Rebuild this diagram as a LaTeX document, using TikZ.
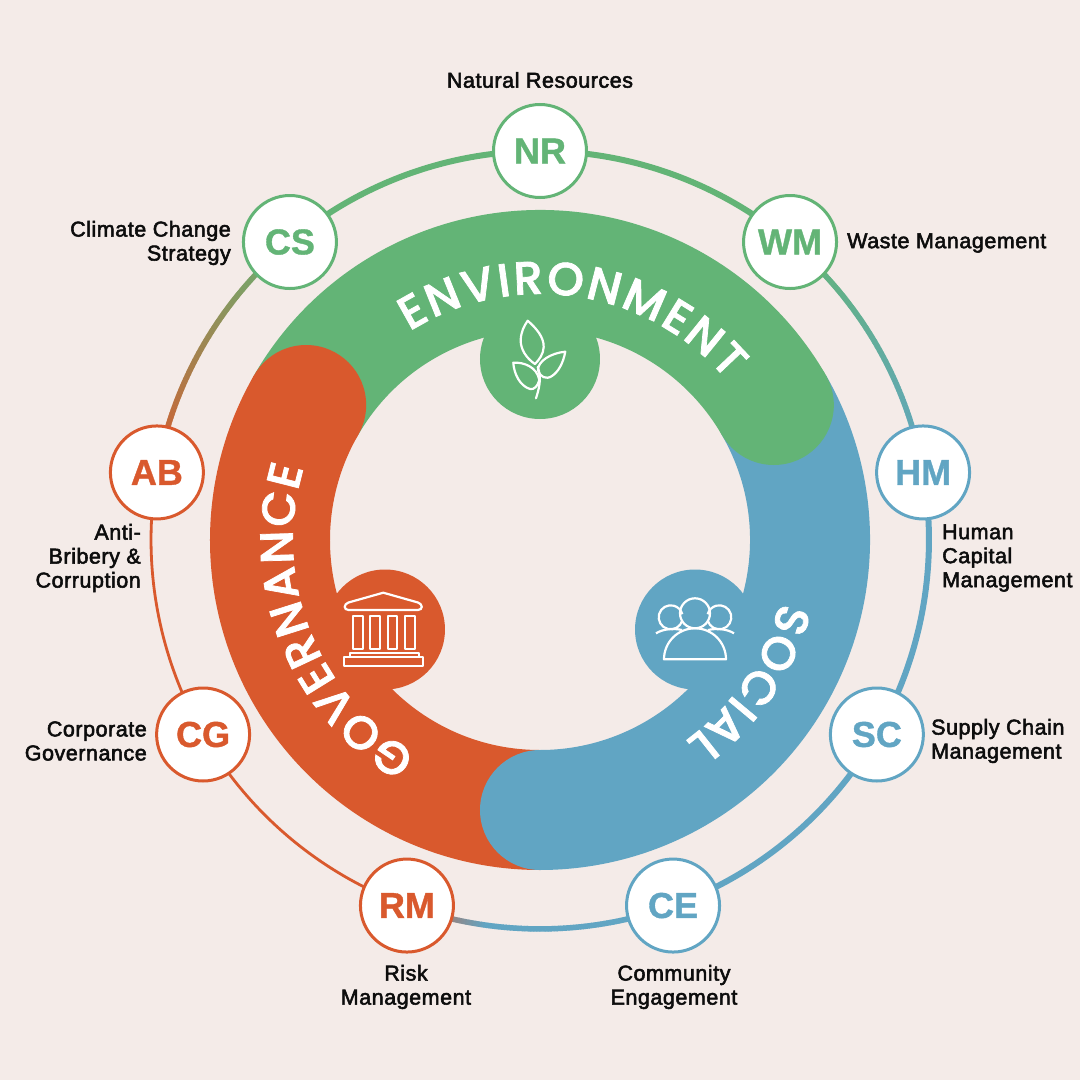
\documentclass[tikz,border=0pt]{standalone}
\usepackage{fontspec}
\usetikzlibrary{decorations.text,decorations.markings}
\setmainfont{Liberation Sans}
\newfontfamily\labfam[FakeBold=2.5,LetterSpace=2.5]{Liberation Sans}
\newfontfamily\abbrfam[FakeBold=1]{Liberation Sans Bold}
\newfontfamily\bandfam{Poppins}[UprightFont=* Medium,FakeBold=1.6]
\newcommand{\bandtext}{\bandfam\fontsize{46.5}{46.5}\selectfont\color{white}}
\definecolor{bgc}{HTML}{F4EBE8}
\definecolor{grn}{HTML}{63B476}
\definecolor{blu}{HTML}{61A5C3}
\definecolor{org}{HTML}{D9592D}
\definecolor{ink}{HTML}{0D0D0D}
\pgfdeclarelayer{back}
\pgfsetlayers{back,main}
\tikzset{
  topic/.style={circle,draw=#1,line width=3pt,fill=white,inner sep=0pt,minimum size=93pt,
    text=#1,font=\abbrfam\fontsize{36}{36}\selectfont},
  lab/.style={text=ink,inner sep=0pt,font=\labfam\fontsize{21.5}{24}\selectfont},
  conn/.style={bend left=20,looseness=0.878},
  ringline/.style={#1,line width=6pt},
  ringthin/.style={#1,line width=2.8pt},
  gradconn/.style n args={4}{decorate,decoration={markings,
    mark=between positions 0 and 1 step 1.5pt with {
      \pgfmathsetmacro\gt{100*min(1,max(0,(\pgfkeysvalueof{/pgf/decoration/mark info/distance from start}/\pgfdecoratedpathlength-#3)/(#4-#3)))}
      \colorlet{gcol}{#2!\gt!#1}
      \draw[gcol,line width=5.5pt] (-1pt,0pt)--(1pt,0pt);
    }}},
  band/.style={#1,line width=120pt},
  icon/.style={white,line width=2.2pt,line join=round},
  wordpath/.style={decorate,decoration={text along path,text align={fit to path},text={#1}}},
}
\begin{document}
\begin{tikzpicture}[x=1pt,y=1pt]
\useasboundingbox (-540,-540) rectangle (540,540);
\begin{pgfonlayer}{back}
\fill[bgc] (-540,-540) rectangle (540,540);
\end{pgfonlayer}

% bands
\draw[band=grn] (150:270) arc[start angle=150,end angle=30,radius=270pt];
\draw[band=blu] (30:270) arc[start angle=30,end angle=-90,radius=270pt];
\draw[band=org] (270:270) arc[start angle=270,end angle=150,radius=270pt];
% bubbles for icons
\fill[grn] (90:181) circle[radius=60pt];
\fill[blu] (-30:179) circle[radius=60pt];
\fill[org] (210:179) circle[radius=60pt];
% rounded band ends
\fill[grn] (30:270) circle[radius=60pt];
\fill[blu] (-90:270) circle[radius=60pt];
\fill[org] (150:270) circle[radius=60pt];

% band words
\path[wordpath={|\bandtext|ENVIRONMENT}] (122:246) arc[start angle=122,end angle=40.5,radius=246pt];
\path[wordpath={|\bandtext|SOCIAL}] (-14.5:248) arc[start angle=-14.5,end angle=-54,radius=248pt];
\path[wordpath={|\bandtext|GOVERNANCE}] (240:247) arc[start angle=240,end angle=163,radius=247pt];

% topic circles
\node[topic=grn] (NR) at (90:389) {NR};
\node[topic=grn] (WM) at (50:389) {WM};
\node[topic=blu] (HM) at (10:389) {HM};
\node[topic=blu] (SC) at (-30:389) {SC};
\node[topic=blu] (CE) at (-70:389) {CE};
\node[topic=org] (RM) at (-110:389) {RM};
\node[topic=org] (CG) at (-150:389) {CG};
\node[topic=org] (AB) at (170:389) {AB};
\node[topic=grn] (CS) at (130:389) {CS};

% ring connectors
\begin{pgfonlayer}{back}
\draw[ringline=grn] (NR.center) to[conn] (WM.center);
\draw[gradconn={grn}{blu}{0}{1}] (WM.center) to[conn] (HM.center);
\draw[ringline=blu] (HM.center) to[conn] (SC.center);
\draw[ringline=blu] (SC.center) to[conn] (CE.center);
\draw[gradconn={blu}{org}{0.7}{1}] (CE.center) to[conn] (RM.center);
\draw[ringthin=org] (RM.center) to[conn] (CG.center);
\draw[ringthin=org] (CG.center) to[conn] (AB.center);
\draw[gradconn={org}{grn}{0}{1}] (AB.center) to[conn] (CS.center);
\draw[ringline=grn] (CS.center) to[conn] (NR.center);
\end{pgfonlayer}

\begin{scope}[shift={(-540,540)},yscale=-1]
% labels (reference pixel coordinates)
\node[lab] (lNR) at (540,80) {Natural Resources};
\node[lab,anchor=east,align=right] (lCS) at (231,243) {Climate Change\\Strategy};
\node[lab,anchor=west] (lWM) at (847,243) {Waste Management};
\node[lab,anchor=west,align=left] (lHM) at (942,558) {Human\\Capital\\Management};
\node[lab,anchor=west,align=left] (lSC) at (931,741) {Supply Chain\\Management};
\node[lab,align=center] (lCE) at (674,987) {Community\\Engagement};
\node[lab,align=center] (lRM) at (406,987) {Risk\\Management};
\node[lab,anchor=east,align=right] (lCG) at (147,741) {Corporate\\Governance};
\node[lab,anchor=east,align=right] (lAB) at (141,558) {Anti-\\Bribery \&\\Corruption};

% leaf icon
\draw[icon] (527.7,320.7) .. controls (536,328) and (544,337) .. (543.7,347)
  .. controls (543.5,354) and (539,360) .. (535,364)
  .. controls (526,358) and (520.5,349) .. (520.7,340)
  .. controls (521,332) and (524,326) .. (527.7,320.7) -- cycle;
\draw[icon] (565.3,351.7) .. controls (563,364) and (558,372) .. (552,376)
  .. controls (546,380) and (540,377) .. (538,370)
  .. controls (538,361) and (551,353) .. (565.3,351.7) -- cycle;
\draw[icon] (513.3,362.7) .. controls (524,362) and (537,367) .. (539.3,380)
  .. controls (538,386) and (534,390) .. (530,389)
  .. controls (520,386) and (514,374) .. (513.3,362.7) -- cycle;
\draw[icon,line cap=round] (536,398.3) .. controls (539,389) and (542,378) .. (537.7,367);

% people icon
\draw[icon] (695,613.3) circle[radius=15pt];
\draw[icon] (670.7,617.3) ++(15:12) arc[start angle=15,end angle=345,radius=12pt];
\draw[icon] (719.3,617.3) ++(165:12) arc[start angle=165,end angle=-165,radius=12pt];
\draw[icon] (664,659.3) arc[start angle=180,end angle=360,radius=31pt] -- cycle;
\draw[icon] (656,633.3) .. controls (663,629) and (673,628) .. (682,630);
\draw[icon] (734,633.3) .. controls (727,629) and (717,628) .. (708,630);

% temple icon
\draw[icon] (383.3,592.7) -- (418,602.5) .. controls (423,604) and (423,610) .. (418,610)
  -- (348.5,610) .. controls (343.5,610) and (343.5,604) .. (348.5,602.5) -- cycle;
\draw[icon] (353.3,616) rectangle (362.7,649.3);
\draw[icon] (370,616) rectangle (380,649.3);
\draw[icon] (387.7,616) rectangle (397.3,649.3);
\draw[icon] (405,616) rectangle (414.7,649.3);
\draw[icon] (350,656.7) -- (350,652.7) -- (419,652.7) -- (419,656.7);
\draw[icon] (344.3,656.7) rectangle (423.3,666);
\end{scope}
\end{tikzpicture}
\end{document}
